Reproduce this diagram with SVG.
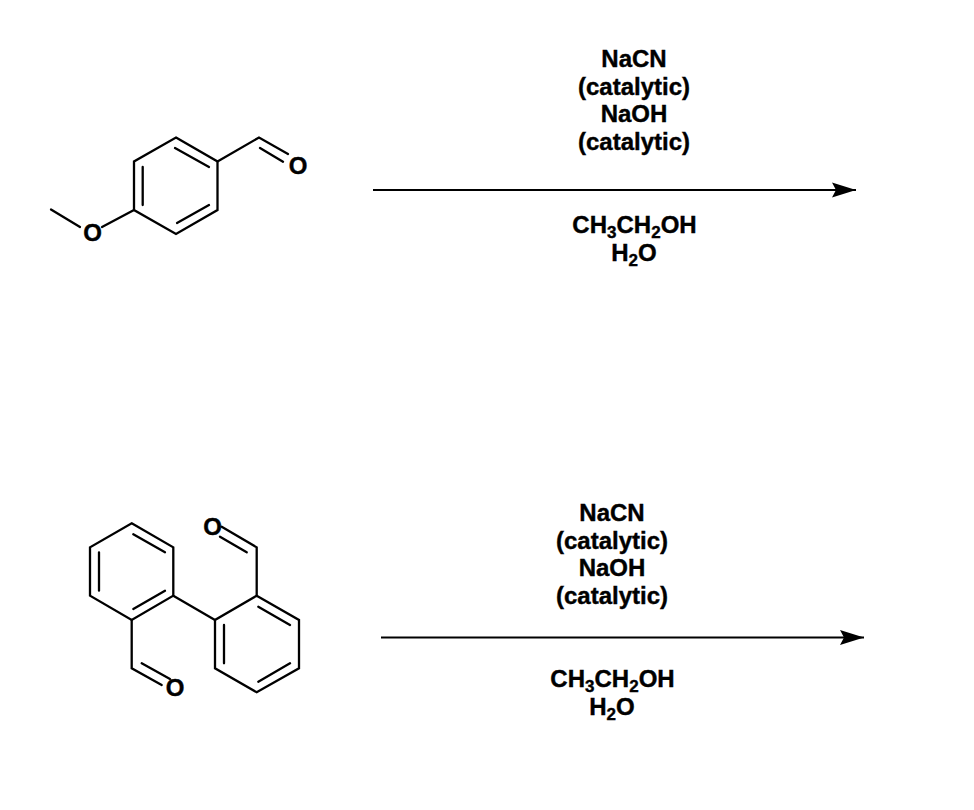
<svg xmlns="http://www.w3.org/2000/svg" width="974" height="810" viewBox="0 0 974 810">
<style>
.b{fill:none;stroke:#000;stroke-width:2.300;stroke-linecap:round;stroke-linejoin:miter}
.a{fill:none;stroke:#000;stroke-width:2.200}
text{font-family:"Liberation Sans",Arial,sans-serif;font-weight:bold;fill:#000;stroke:#000;stroke-width:.4px;font-size:24px}
.m{text-anchor:middle}
.s{font-size:17px}
</style>
<defs>
<marker id="ah" markerUnits="userSpaceOnUse" markerWidth="26" markerHeight="18" refX="24" refY="9" orient="auto"><path d="M0 1.500L24 9L0 16.500L4 9Z" fill="#000"/></marker>
</defs>
<rect width="974" height="810" fill="#fff"/>
<g id="molecule-1">
<path class="b" d="M176 137.500L217.500 161.500V210L176 234L134 210V161.500Z"/>
<path class="b" d="M175 148L209 167M142.700 167V205M177 223L209 205"/>
<path class="b" d="M217.500 161.500L259 137.500L288 154M260 148L283 161.700"/>
<path class="b" d="M51 209.500L80 227M102 227L134 210"/>
<text class="m" x="298" y="173.500">O</text>
<text class="m" x="92.500" y="241">O</text>
</g>
<g id="molecule-2">
<path class="b" d="M131.700 523.300L173.300 547.300V595.700L131.700 620L90 595.700V547.300Z"/>
<path class="b" d="M133.300 534.300L165 552.300M99 552.300V590.700M133.300 609L165 590.700"/>
<path class="b" d="M173.300 595.700L215 620"/>
<path class="b" d="M256.700 595.700L299 620V668.300L256.700 692.300L215 668.300V620Z"/>
<path class="b" d="M258.300 606.700L290 625M224 625V663.300M258.300 681.700L290 663.300"/>
<path class="b" d="M256.700 595.700V547.300L221.700 526.700M246.700 552.300L220 536.700"/>
<path class="b" d="M131.700 620V668.300L161.700 685M141.700 663.300L170 679"/>
<text class="m" x="212.700" y="535">O</text>
<text class="m" x="175" y="696">O</text>
</g>
<g id="connectors">
<line class="a" x1="373" y1="190" x2="856" y2="190" marker-end="url(#ah)"/>
<line class="a" x1="381" y1="637.500" x2="864" y2="637.500" marker-end="url(#ah)"/>
</g>
<g id="conditions-1">
<text class="m" x="634" y="67">NaCN</text>
<text class="m" x="634" y="95">(catalytic)</text>
<text class="m" x="634" y="122">NaOH</text>
<text class="m" x="634" y="150">(catalytic)</text>
<text class="m" x="634.500" y="233">CH<tspan class="s" dy="5">3</tspan><tspan dy="-5">CH</tspan><tspan class="s" dy="5">2</tspan><tspan dy="-5">OH</tspan></text>
<text class="m" x="634" y="261">H<tspan class="s" dy="5">2</tspan><tspan dy="-5">O</tspan></text>
</g>
<g id="conditions-2">
<text class="m" x="612" y="521">NaCN</text>
<text class="m" x="612" y="549">(catalytic)</text>
<text class="m" x="612" y="576">NaOH</text>
<text class="m" x="612" y="604">(catalytic)</text>
<text class="m" x="612.500" y="687">CH<tspan class="s" dy="5">3</tspan><tspan dy="-5">CH</tspan><tspan class="s" dy="5">2</tspan><tspan dy="-5">OH</tspan></text>
<text class="m" x="612" y="715">H<tspan class="s" dy="5">2</tspan><tspan dy="-5">O</tspan></text>
</g>
</svg>
